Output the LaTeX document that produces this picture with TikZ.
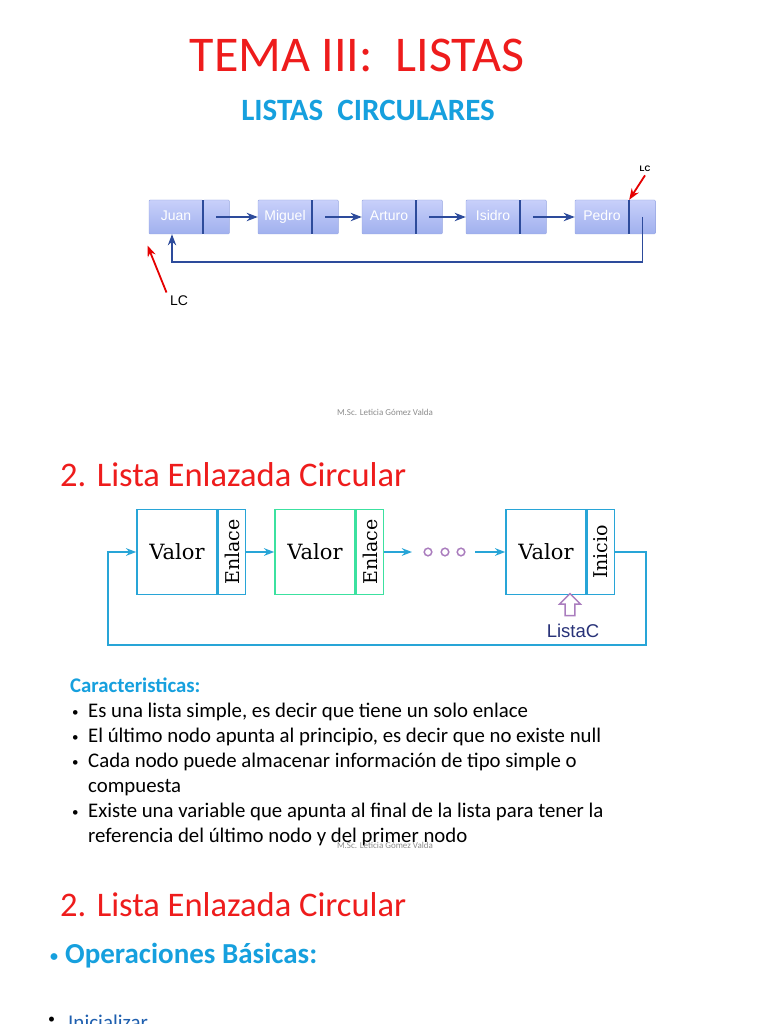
\documentclass[tikz,border=0pt]{standalone}
\usepackage{fontspec}
\setmainfont{Carlito}
\newfontfamily\arialf{Liberation Sans}
\newfontfamily\valf{DejaVu Serif}
\usetikzlibrary{arrows.meta, positioning, shapes.arrows}
\definecolor{titred}{RGB}{238,28,28}
\definecolor{skyb}{RGB}{22,160,222}
\definecolor{lavtop}{RGB}{200,208,250}
\definecolor{lavbot}{RGB}{160,176,238}
\definecolor{lavln}{RGB}{150,165,225}
\definecolor{navy}{RGB}{45,75,155}
\definecolor{cyanln}{RGB}{40,165,215}
\definecolor{mint}{RGB}{60,225,160}
\definecolor{plum}{RGB}{170,125,190}
\definecolor{ink}{RGB}{40,50,120}
\definecolor{opblue}{RGB}{30,95,175}
\newcommand{\dotb}{\makebox[16pt][l]{\raisebox{1pt}{\fontsize{13}{13}\selectfont •}}}
\begin{document}
\begin{tikzpicture}[x=1pt, y=-1pt,
  >=Stealth,
  ttl/.style={text=titred, inner sep=0pt, font=\fontsize{50}{50}\selectfont},
  sec/.style={text=titred, anchor=west, inner sep=0pt, font=\fontsize{34.5}{34.5}\selectfont},
  foot/.style={text=black!45, inner sep=0pt, font=\fontsize{9}{9}\selectfont},
  ln/.style={anchor=base west, inner sep=0pt, font=\fontsize{20.8}{20.8}\selectfont},
  % old list: data cell + link cell
  dat/.style={rectangle, rounded corners=1pt, draw=lavln, top color=lavtop, bottom color=lavbot, minimum width=54, minimum height=34, inner sep=0pt, text height=10, text depth=3, text=white, font=\arialf\fontsize{14}{14}\selectfont},
  ptr/.style={dat, minimum width=26},
  bar/.style={navy, line width=1.6pt},
  na/.style={->, navy, line width=1.8pt},
  ra/.style={->, red!90!black, line width=1.8pt},
  % new list: Valor + Enlace
  val/.style={rectangle, draw=cyanln, line width=1.6pt, minimum width=80, minimum height=85, inner sep=0pt, font=\valf\fontsize{21}{21}\selectfont},
  lnk/.style={val, minimum width=27, font=\valf\fontsize{19}{19}\selectfont},
  ca/.style={->, cyanln, line width=1.6pt}]
\clip (0,0) rectangle (768,1024);
\fill[white] (0,0) rectangle (768,1024);

% ---- header ----
\node[ttl] (title) at (357,55) {TEMA III:\ \ LISTAS};
\node[text=skyb, inner sep=0pt, font=\bfseries\fontsize{31}{31}\selectfont] (sub) at (368,110) {LISTAS\ \ CIRCULARES};

% ---- circular list with names ----
\node[dat] (juan) at (176,217) {Juan};
\node[ptr, right=0pt of juan] (juanp) {};
\node[dat] (miguel) at (285,217) {Miguel};
\node[ptr, right=0pt of miguel] (miguelp) {};
\node[dat] (arturo) at (389,217) {Arturo};
\node[ptr, right=0pt of arturo] (arturop) {};
\node[dat] (isidro) at (493,217) {Isidro};
\node[ptr, right=0pt of isidro] (isidrop) {};
\node[dat] (pedro) at (602,217) {Pedro};
\node[ptr, right=0pt of pedro] (pedrop) {};
\foreach \p in {juanp, miguelp, arturop, isidrop, pedrop}
  \draw[bar] (\p.north west) -- (\p.south west);
\draw[na] (juanp.center) -- (miguel.west);
\draw[na] (miguelp.center) -- (arturo.west);
\draw[na] (arturop.center) -- (isidro.west);
\draw[na] (isidrop.center) -- (pedro.west);
\coordinate (back) at (172,262);
\draw[na] (pedrop.center) |- (back) -- (back |- juan.south);
\node[font=\arialf\fontsize{14}{14}\selectfont] (lcb) at (179,301) {LC};
\node[font=\arialf\bfseries\fontsize{8}{8}\selectfont] (lct) at (645,169) {LC};
\draw[ra] (lcb.north west) -- ++(-19,-47);
\draw[ra] (lct.south) -- (pedrop.north west);
\node[foot] (f1) at (385,412) {M.Sc. Leticia Gómez Valda};

% ---- section 2 ----
\node[sec] (s2) at (60,475) {2. Lista Enlazada Circular};
\node[val] (v1) at (177,552) {Valor};
\node[lnk, right=0pt of v1] (e1) {\rotatebox{90}{Enlace}};
\node[val, draw=mint] (v2) at (315,552) {Valor};
\node[lnk, draw=mint, right=0pt of v2] (e2) {\rotatebox{90}{Enlace}};
\node[val] (v3) at (546,552) {Valor};
\node[lnk, right=0pt of v3] (e3) {\rotatebox{90}{Inicio}};
\foreach \i in {428,445,461}
  \draw[plum, line width=1.5pt] (\i,552) circle (3.8);
\coordinate (dl) at (412,552);
\coordinate (dr) at (475,552);
\draw[ca] (e1.east) -- (v2.west);
\draw[ca] (e2.east) -- (dl);
\draw[ca] (dr) -- (v3.west);
\coordinate (rr) at (646,645);
\coordinate (rl) at (108,645);
\draw[ca] (e3.east) -| (rr) -- (rl) |- (v1.west);
\node[single arrow, draw=plum, line width=1.4pt, shape border rotate=90, minimum height=22, minimum width=21, single arrow head extend=2, inner sep=1pt] (up) at (570,607) {};
\node[text=ink, font=\arialf\fontsize{18.5}{18.5}\selectfont] (lista) at (573,631) {ListaC};

% ---- characteristics ----
\node[ln, text=skyb, font=\bfseries\fontsize{20.8}{20.8}\selectfont] (car) at (70,692) {Caracteristicas:};
\node[ln] (c1) at (72,717) {\dotb Es una lista simple, es decir que tiene un solo enlace};
\node[ln] (c2) at (72,742) {\dotb El último nodo apunta al principio, es decir que no existe null};
\node[ln] (c3) at (72,767) {\dotb Cada nodo puede almacenar información de tipo simple o};
\node[ln] (c3b) at (88,792) {compuesta};
\node[ln] (c4) at (72,817) {\dotb Existe una variable que apunta al final de la lista para tener la};
\node[ln] (c4b) at (88,842) {referencia del último nodo y del primer nodo};
\node[foot] (f2) at (385,845) {M.Sc. Leticia Gómez Valda};

% ---- section 3 ----
\node[sec] (s3) at (60,905) {2. Lista Enlazada Circular};
\node[ln, text=skyb, font=\bfseries\fontsize{29}{29}\selectfont] (op) at (50,963) {\makebox[15pt][l]{\raisebox{2pt}{\fontsize{16}{16}\selectfont •}}Operaciones Básicas:};
\node[ln, text=opblue, font=\fontsize{21}{21}\selectfont] (ini) at (48,1029) {\makebox[20pt][l]{\raisebox{6pt}{\color{black}\fontsize{14}{14}\selectfont •}}Inicializar};
\end{tikzpicture}
\end{document}
